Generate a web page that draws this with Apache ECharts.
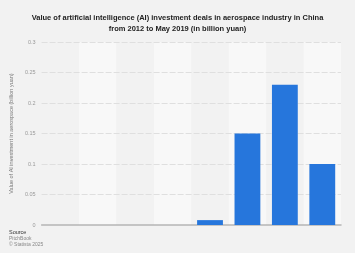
<!DOCTYPE html>
<html><head><meta charset="utf-8">
<script src="https://cdn.jsdelivr.net/npm/echarts@6/dist/echarts.min.js"></script>
<style>html,body{margin:0;padding:0;background:#f2f2f2}#c{width:355px;height:253px}</style>
</head><body><div id="c"></div>
<script>
const categories = ['2012','2013','2014','2015','2016','2017','2018','2019'];
const values = [0, 0, 0, 0, 0.008, 0.15, 0.23, 0.1];
const yTicks = [0, 0.05, 0.1, 0.15, 0.2, 0.25, 0.3];
const yTickLabels = ['0', '0.05', '0.1', '0.15', '0.2', '0.25', '0.3'];
const titleText = 'Value of artificial intelligence (AI) investment deals in aerospace industry in China\nfrom 2012 to May 2019 (in billion yuan)';
const yAxisTitle = 'Value of AI investment in aerospace (billion yuan)';

const chart = echarts.init(document.getElementById('c'), null, {renderer: 'canvas'});
chart.setOption({
  backgroundColor: '#f2f2f2',
  animation: false,
  title: {
    text: titleText, left: 'center', top: 7,
    textStyle: {fontFamily: 'Liberation Sans', fontSize: 7.5, fontWeight: 'bold', color: '#222', lineHeight: 11}
  },
  graphic: [
    {type: 'text', left: 9, top: 229, style: {text: 'Source', fontFamily: 'Liberation Sans', fontSize: 5.5, fill: '#333'}},
    {type: 'text', left: 9, top: 236, style: {text: 'PitchBook', fontFamily: 'Liberation Sans', fontSize: 5, fill: '#888'}},
    {type: 'text', left: 9, top: 242, style: {text: '© Statista 2025', fontFamily: 'Liberation Sans', fontSize: 5, fill: '#888'}}
  ],
  grid: {left: 41, right: 14, top: 42, bottom: 28},
  xAxis: {
    type: 'category', data: categories, z: 0,
    axisLine: {show: true, lineStyle: {color: '#b5b5b5', width: 1.5}},
    axisTick: {show: false}, axisLabel: {show: false},
    splitArea: {show: true, areaStyle: {color: ['#f2f2f2', '#f8f8f8']}}
  },
  yAxis: {
    type: 'value', min: 0, max: 0.3, interval: 0.05, z: 1,
    name: yAxisTitle, nameLocation: 'middle', nameGap: 24,
    nameTextStyle: {fontFamily: 'Liberation Sans', fontSize: 5.5, color: '#777'},
    axisLine: {show: false}, axisTick: {show: false},
    axisLabel: {fontFamily: 'Liberation Sans', fontSize: 5.5, color: '#999', margin: 6,
      formatter: v => { const i = yTicks.findIndex(t => Math.abs(t - v) < 1e-9); return i >= 0 ? yTickLabels[i] : ''; }},
    splitLine: {showMinLine: false, lineStyle: {color: '#dfdfdf', width: 1, type: [6, 2]}}
  },
  series: [{
    type: 'bar', data: values, barWidth: '69%', z: 3,
    itemStyle: {color: '#2676dc'}
  }]
});
</script></body></html>
